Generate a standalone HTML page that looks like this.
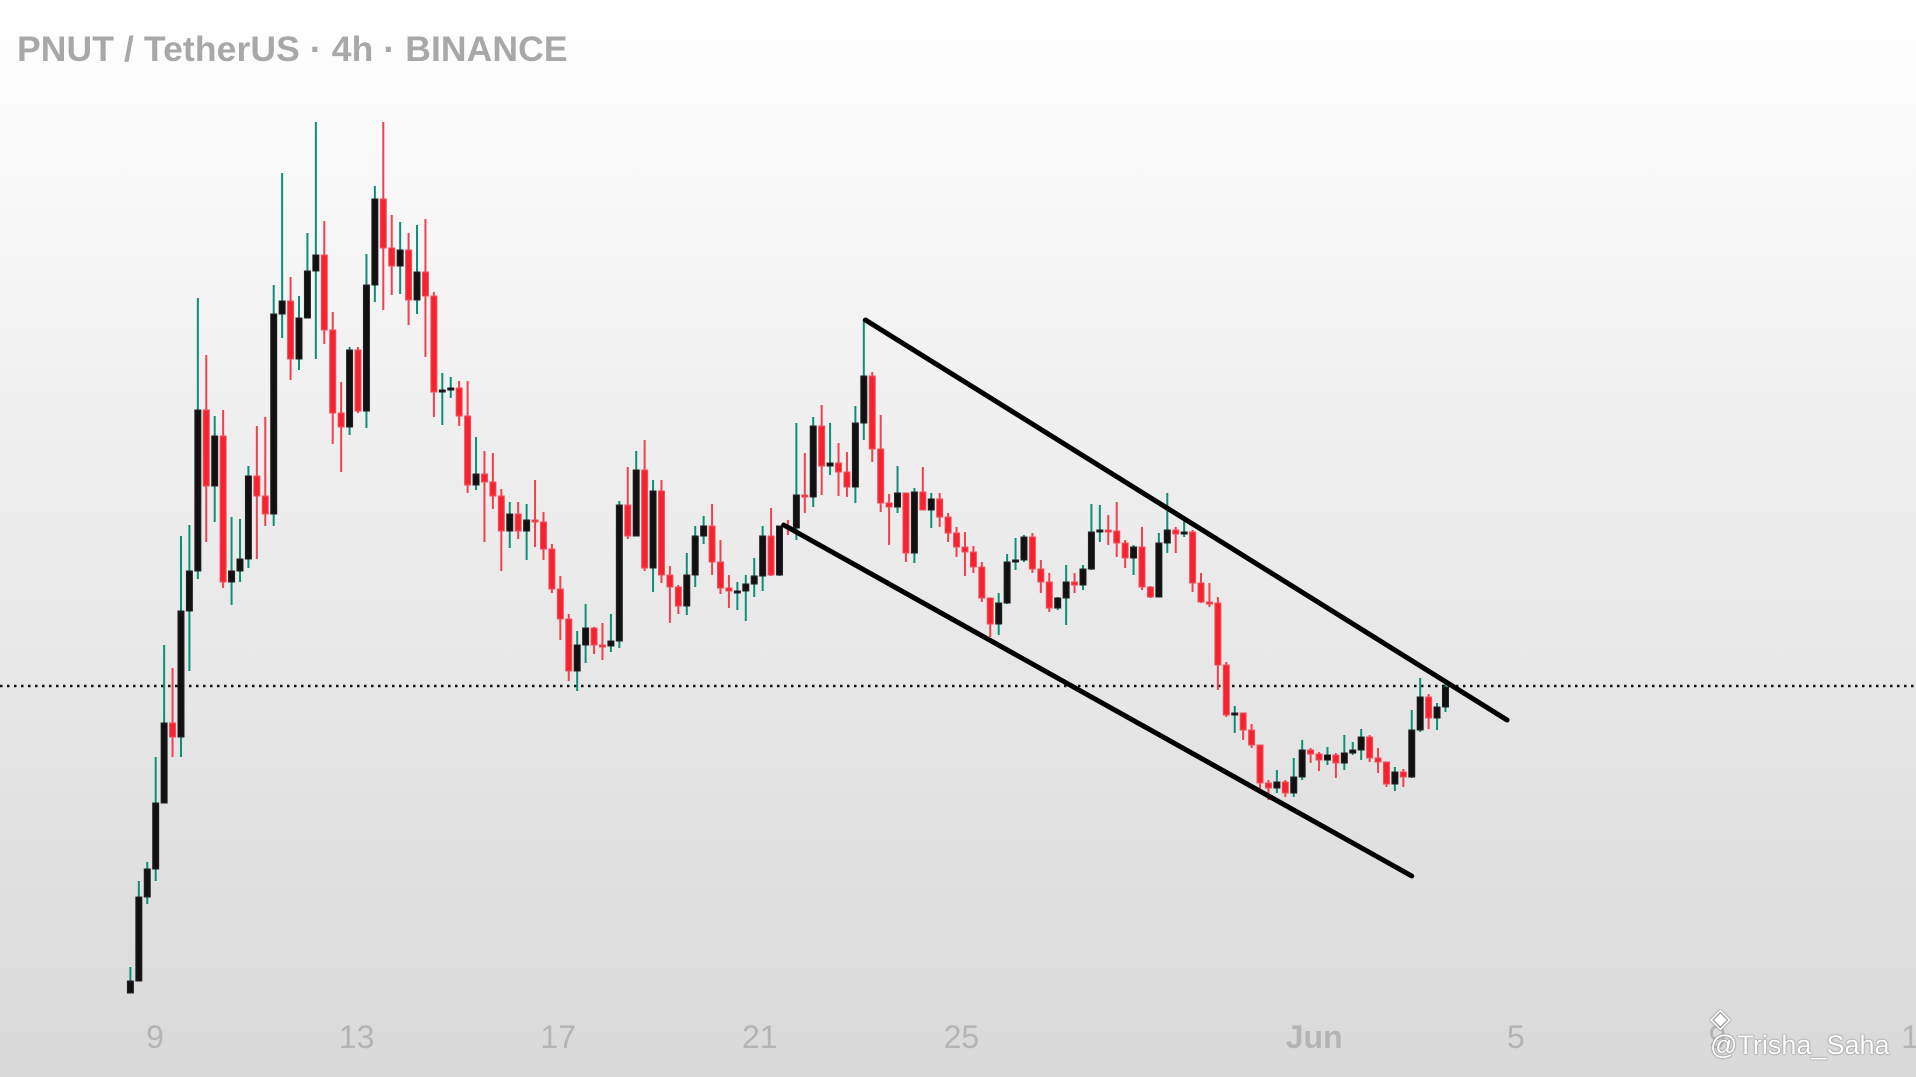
<!DOCTYPE html>
<html><head><meta charset="utf-8">
<style>
html,body{margin:0;padding:0;}
body{width:1916px;height:1077px;overflow:hidden;background:linear-gradient(#ffffff 0%,#f1f1f1 35%,#e4e4e4 70%,#d9d9d9 100%);font-family:"Liberation Sans",sans-serif;}
#chart{position:absolute;left:0;top:0;}
.title{position:absolute;left:17px;top:29px;font-size:35.5px;font-weight:bold;color:#a8a8a8;letter-spacing:0.1px;}
.wm{position:absolute;left:1710px;top:1005px;font-size:27px;color:#ffffff;text-shadow:0 0 2px #888,0 0 1px #666;line-height:1;}
</style></head>
<body>
<div class="title">PNUT / TetherUS · 4h · BINANCE</div>
<svg id="chart" width="1916" height="1077"></svg>
<div class="wm">◈ @Trisha_Saha</div>
<script>
const opens=[7,19,103,131,197,277,263,389,429,590,514,564,418,429,441,524,504,486,686,699,641,682,729,745,670,587,573,650,589,715,801,752,734,750,700,728,704,608,610,612,584,515,526,518,504,469,486,469,480,478,451,411,381,329,355,372,355,354,359,495,464,530,432,509,425,413,394,425,464,474,438,412,409,409,416,424,464,425,474,472,505,503,574,534,537,528,513,577,624,551,497,493,507,447,508,490,501,483,467,453,448,433,402,376,397,438,440,463,431,418,392,402,418,415,431,468,470,469,457,442,453,413,403,457,470,466,468,417,398,397,335,285,287,270,255,217,212,218,207,223,250,246,240,245,237,247,250,263,242,238,216,228,223,270,303,282,293];
const highs=[33,119,138,243,355,332,464,475,702,645,584,590,483,481,534,574,583,715,827,723,704,767,878,779,688,618,653,653,746,814,878,785,778,767,775,781,708,627,623,619,619,563,549,547,511,498,498,496,520,488,456,424,386,369,396,373,377,386,499,533,549,560,520,520,434,415,447,474,484,496,460,425,418,425,442,474,492,474,480,577,547,583,595,577,557,548,594,681,628,585,506,534,507,512,533,507,507,487,473,468,454,438,402,407,446,462,465,467,440,427,403,435,427,435,496,495,485,498,460,455,473,414,467,507,473,482,470,427,417,403,338,294,287,276,255,220,230,220,242,260,252,248,253,247,265,258,271,265,252,238,233,231,290,322,306,297,318];
const lows=[7,19,96,119,197,243,243,329,421,458,478,412,395,418,432,441,474,474,662,620,630,682,641,656,556,528,565,587,572,698,690,705,706,675,686,643,583,575,602,574,507,510,458,491,429,452,461,440,453,440,407,360,319,309,337,346,340,348,352,461,464,429,408,417,377,386,385,413,456,425,406,392,390,379,403,409,424,424,465,460,487,493,505,525,504,503,497,560,538,488,455,487,438,437,490,472,473,458,443,424,427,398,363,365,396,430,438,427,407,388,390,375,407,410,430,458,455,443,432,425,410,402,403,447,447,463,408,397,393,310,283,267,260,252,209,200,207,203,203,220,237,229,235,222,230,245,240,238,227,213,209,213,222,268,271,270,288];
const closes=[19,103,131,197,277,263,389,429,590,514,564,418,429,441,524,504,486,686,699,641,682,729,745,670,587,573,650,589,715,801,752,734,750,700,728,704,608,610,612,584,515,526,518,504,469,486,469,480,478,451,411,381,329,355,372,355,354,359,495,464,530,432,509,425,413,394,425,464,474,438,412,409,409,416,424,464,425,474,472,505,503,574,534,537,528,513,577,624,551,497,493,507,447,508,490,501,483,467,453,448,433,402,376,397,438,440,463,431,418,392,402,418,415,431,468,470,469,457,442,453,413,403,457,470,466,468,417,398,397,335,285,287,270,255,217,212,218,207,223,250,246,240,245,237,247,250,263,242,238,216,228,223,270,303,282,293,313];
const dayTicks=["9","13","17","21","25","Jun","5","9","13"];
const dayTickIdx=[0,4,8,12,16,23,27,31,35]; // days after May 9
const refPrice=314;
const upperTrend=[[87.2,680],[163.3,280]];   // [candle index, price]
const lowerTrend=[[77.5,475],[152.0,124]];

const svg=document.getElementById('chart');
const NS='http://www.w3.org/2000/svg';
function xScale(i){return 130.4+i*8.43;}
function yScale(p){return 1000-p;}
function dayX(d){return 155+d*50.4;}
function mk(tag,attrs){const e=document.createElementNS(NS,tag);for(const k in attrs)e.setAttribute(k,attrs[k]);svg.appendChild(e);return e;}

const dl=mk('line',{x1:0,x2:1916,y1:yScale(refPrice),y2:yScale(refPrice),stroke:'#111',
'stroke-width':2.4,'stroke-dasharray':'2.5 4.5'});



for(let i=0;i<opens.length;i++){
  const o=opens[i],c=closes[i],h=highs[i],l=lows[i];
  const up=c>=o;
  const x=xScale(i);
  const g=document.createElementNS(NS,'g');svg.appendChild(g);
  
  
  const w=document.createElementNS(NS,'line');
  w.setAttribute('x1',x);w.setAttribute('x2',x);
  w.setAttribute('y1',yScale(h));w.setAttribute('y2',yScale(l));
  w.setAttribute('stroke',up?'#0b8f77':'#f0414f');w.setAttribute('stroke-width',2);
  g.appendChild(w);
  const b=document.createElementNS(NS,'rect');
  const top=yScale(Math.max(o,c)),bot=yScale(Math.min(o,c));
  b.setAttribute('x',x-3);b.setAttribute('width',6);
  b.setAttribute('y',top);b.setAttribute('height',Math.max(2,bot-top));
  b.setAttribute('fill',up?'#111111':'#f7222f');
  b.setAttribute('stroke',up?'#222':'#f0505c');b.setAttribute('stroke-width',1);
  g.appendChild(b);
}

function trend(pts,name){
  const ln=mk('line',{x1:xScale(pts[0][0]),y1:yScale(pts[0][1]),x2:xScale(pts[1][0]),y2:yScale(pts[1][1]),
  stroke:'#000','stroke-width':5,'stroke-linecap':'round'});
  
  
}
trend(upperTrend,'upper-channel-line');
trend(lowerTrend,'lower-channel-line');

for(let k=0;k<dayTicks.length;k++){
  const t=mk('text',{x:dayX(dayTickIdx[k]),y:1048,'text-anchor':'middle','font-size':32,
  'font-family':'Liberation Sans, sans-serif',fill:'#b4b4b4','font-weight':dayTicks[k]==='Jun'?'bold':'normal'});
  t.textContent=dayTicks[k];
  
  
}
</script>
</body></html>
